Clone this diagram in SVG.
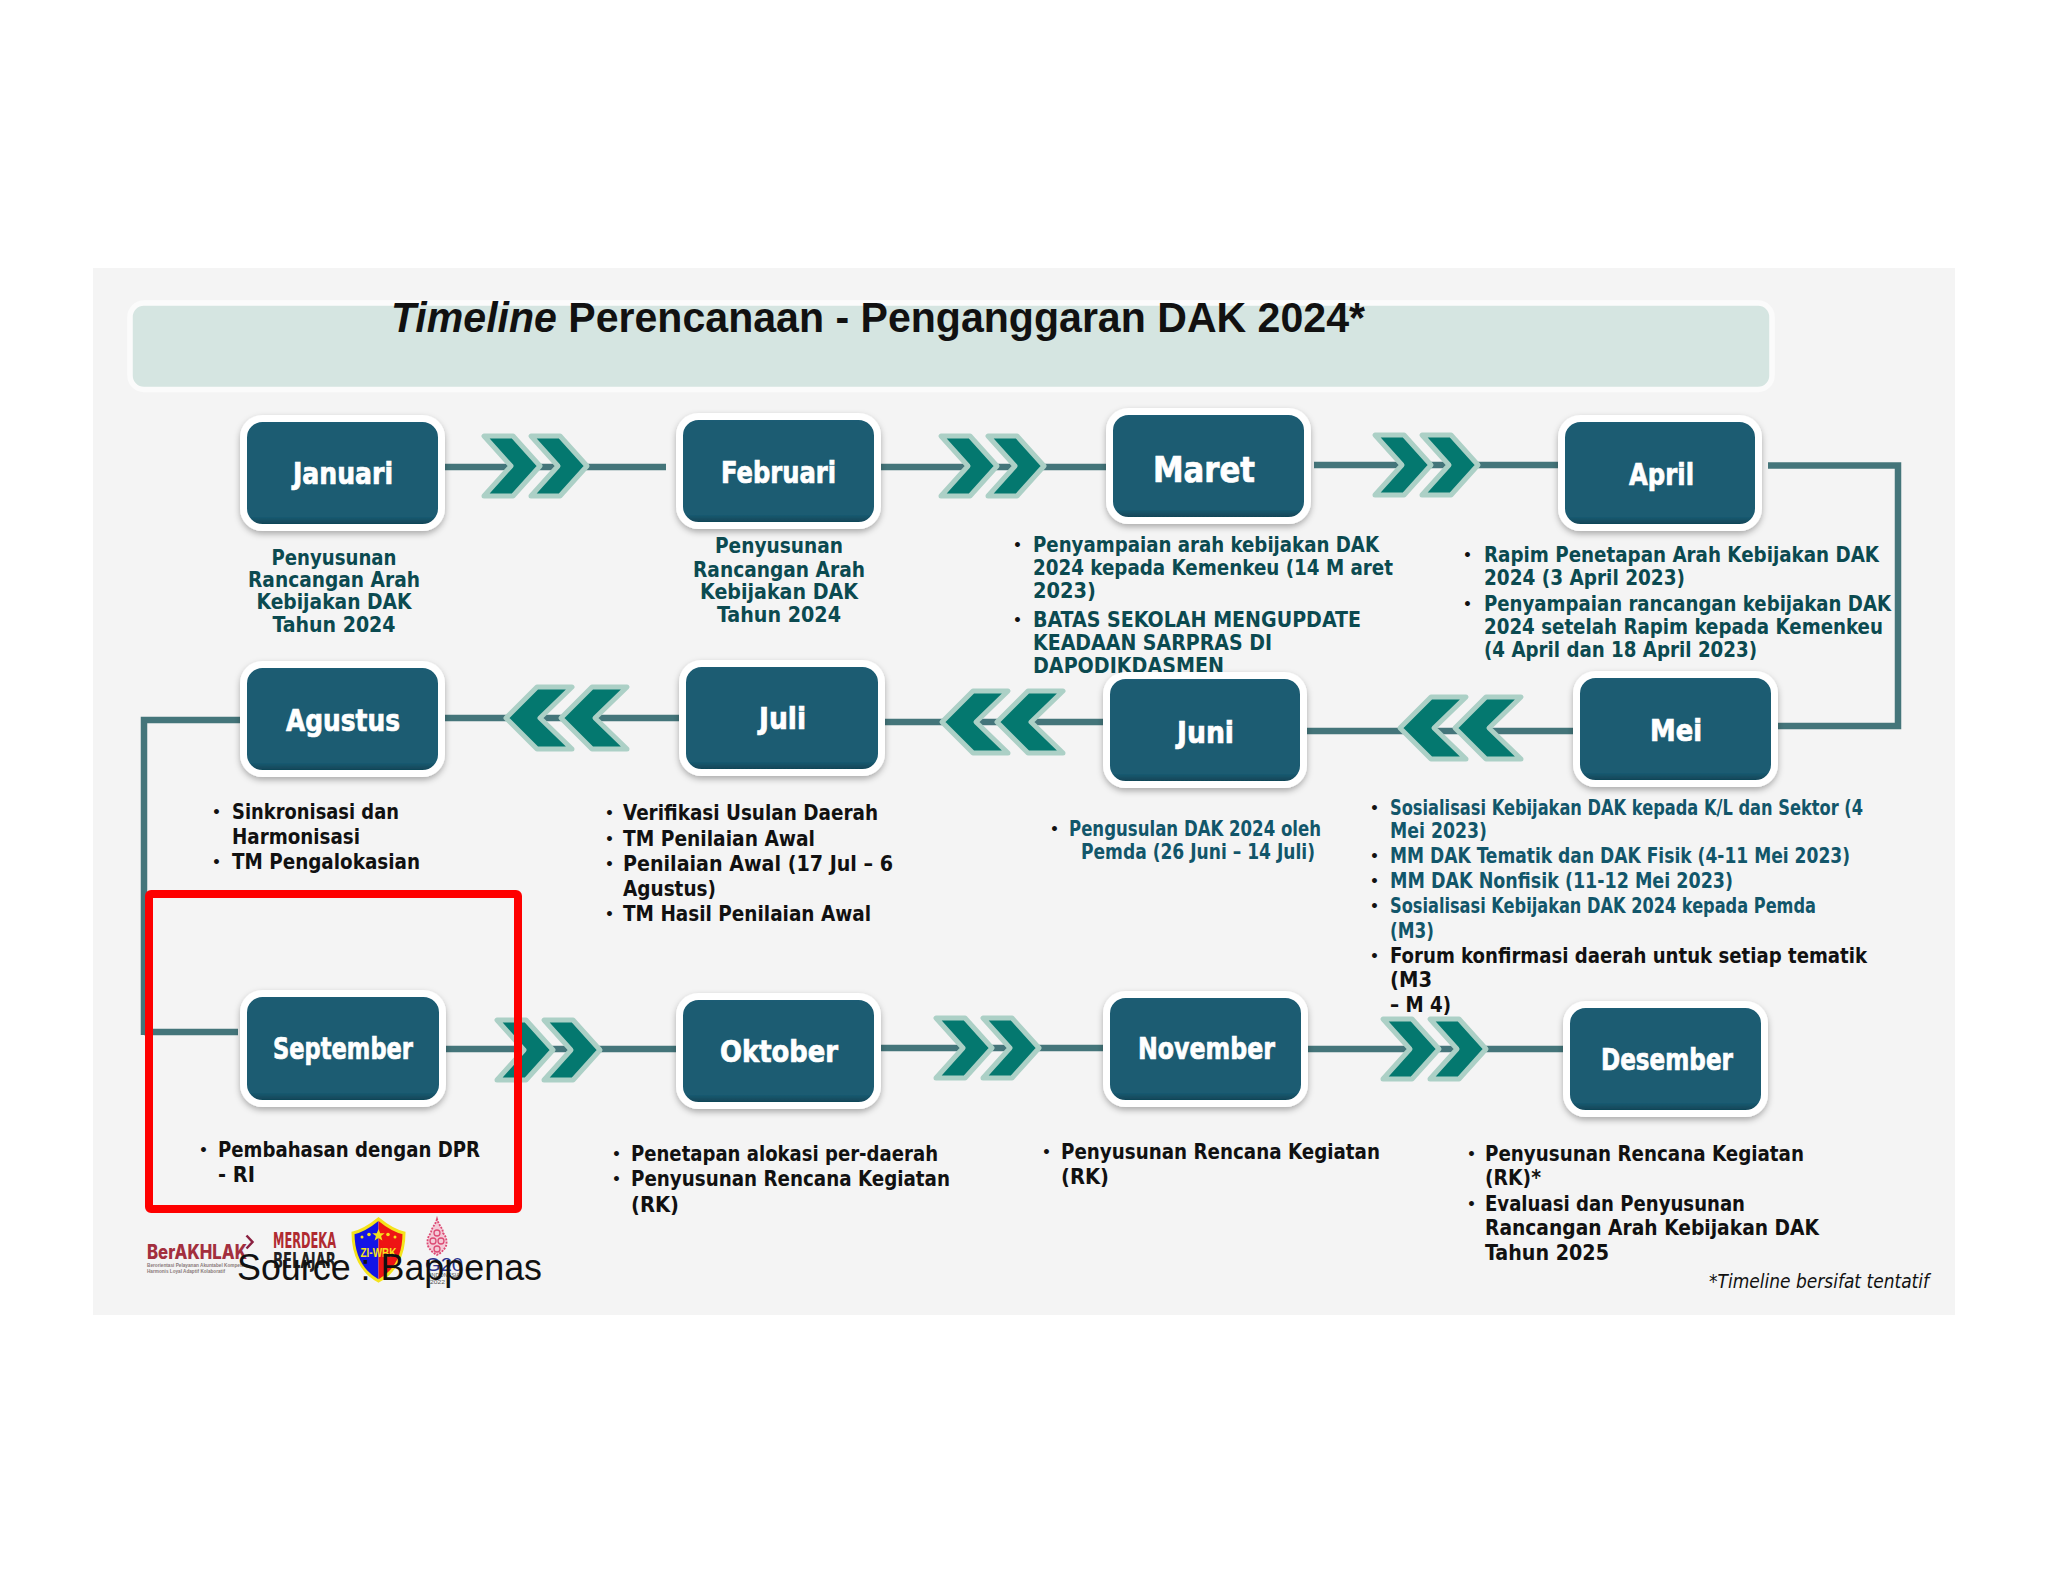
<svg xmlns="http://www.w3.org/2000/svg" width="2048" height="1582" viewBox="0 0 2048 1582">
<style>
text{font-family:"DejaVu Sans","Liberation Sans",sans-serif}
.b{font-size:20.5px;font-weight:700;font-stretch:condensed;white-space:pre}
.d{fill:#0b4a50}.k{fill:#111}.u{fill:#12566a}
.m{text-anchor:middle}
.p{font-size:14px;fill:#111;font-weight:700}
.n{fill:#fff;stroke:#fff;stroke-width:.7;font-weight:700;font-stretch:condensed;font-size:31px}
.box{fill:url(#nb);stroke:#fff;stroke-width:7;filter:url(#sh)}
.ln{fill:none;stroke:#44757a;stroke-width:6.5}
.cv{fill:#04786f;stroke:#acd0c6;stroke-width:5;stroke-linejoin:round}
.lg{font-family:"Liberation Sans",sans-serif}
</style>
<defs>
<linearGradient id="nb" x1="0" y1="0" x2="0" y2="1"><stop offset="0" stop-color="#1c6078"/><stop offset=".06" stop-color="#1a5b72"/><stop offset=".9" stop-color="#1a5b72"/><stop offset="1" stop-color="#0c3b4a"/></linearGradient>
<filter id="sh" x="-10%" y="-10%" width="120%" height="125%"><feDropShadow dx="0" dy="3" stdDeviation="3" flood-color="#000" flood-opacity=".3"/></filter>
<g id="rr"><polygon class="cv" points="3,3 32,3 59,33 32,63 3,63 30,33"/><polygon class="cv" points="50,3 79,3 106,33 79,63 50,63 77,33"/></g>
<g id="ll"><polygon class="cv" points="69,3 34,3 3,34 34,65 69,65 37,34"/><polygon class="cv" points="124,3 89,3 58,34 89,65 124,65 92,34"/></g>
</defs>
<rect width="2048" height="1582" fill="#fff"/>
<rect x="93" y="268" width="1862" height="1047" fill="#f4f4f4"/>
<g id="title-bar"><rect x="130" y="303" width="1642" height="86.500" rx="14" fill="#d5e5e1" stroke="#fbfbfb" stroke-width="5.500"/>
<text x="391" y="332" font-size="42" font-weight="700" class="k" style="font-family:'Liberation Sans',sans-serif" textLength="974" lengthAdjust="spacingAndGlyphs"><tspan font-style="italic">Timeline</tspan> Perencanaan - Penganggaran DAK 2024*</text></g>
<g id="connectors">
<path class="ln" d="M445 467H666M881 467H1106M1314 465H1558M1768 465.500H1898V726H1770"/>
<path class="ln" d="M1307 731H1578M884 722H1103M444 718H687M240 720H144V1035M144 1032H238M430 1049H677M880 1048H1104M1307 1049H1563"/>
<use href="#rr" x="481" y="433"/><use href="#rr" x="938" y="433"/><use href="#rr" x="1372" y="432"/>
<use href="#ll" x="1397" y="694"/><use href="#ll" x="939" y="688"/><use href="#ll" x="503" y="684"/>
<use href="#rr" x="494" y="1017"/><use href="#rr" x="933" y="1015"/><use href="#rr" x="1380" y="1016"/>
</g>
<g id="januari"><rect class="box" x="243.500" y="418.500" width="198" height="109" rx="19"/><text class="n" x="293" y="484" textLength="100" lengthAdjust="spacingAndGlyphs">Januari</text>
<g class="b d m"><text x="334" y="565" textLength="125" lengthAdjust="spacingAndGlyphs">Penyusunan</text><text x="334" y="587" textLength="172" lengthAdjust="spacingAndGlyphs">Rancangan  Arah</text><text x="334" y="609" textLength="155" lengthAdjust="spacingAndGlyphs">Kebijakan DAK</text><text x="334" y="632" textLength="123" lengthAdjust="spacingAndGlyphs">Tahun 2024</text></g></g>
<g id="februari"><rect class="box" x="679.500" y="416.500" width="198" height="109" rx="19"/><text class="n" x="721" y="483" textLength="115" lengthAdjust="spacingAndGlyphs">Februari</text>
<g class="b d m"><text x="779" y="553" textLength="128" lengthAdjust="spacingAndGlyphs">Penyusunan</text><text x="779" y="577" textLength="172" lengthAdjust="spacingAndGlyphs">Rancangan  Arah</text><text x="779" y="599" textLength="158" lengthAdjust="spacingAndGlyphs">Kebijakan DAK</text><text x="779" y="622" textLength="124" lengthAdjust="spacingAndGlyphs">Tahun 2024</text></g></g>
<g id="maret"><rect class="box" x="1109.500" y="411.500" width="198" height="109" rx="19"/><text class="n" style="font-size:36px" x="1153" y="482" textLength="102" lengthAdjust="spacingAndGlyphs">Maret</text>
<text class="p" x="1013" y="550">•</text><text class="p" x="1013" y="625">•</text>
<g class="b d"><text x="1033" y="552" textLength="346" lengthAdjust="spacingAndGlyphs">Penyampaian arah kebijakan DAK</text><text x="1033" y="575" textLength="360" lengthAdjust="spacingAndGlyphs">2024 kepada Kemenkeu (14 M aret</text><text x="1033" y="598" textLength="63" lengthAdjust="spacingAndGlyphs">2023)</text><text x="1033" y="627" textLength="328" lengthAdjust="spacingAndGlyphs">BATAS SEKOLAH MENGUPDATE</text><text x="1033" y="650" textLength="239" lengthAdjust="spacingAndGlyphs">KEADAAN SARPRAS DI</text><text x="1033" y="673" textLength="191" lengthAdjust="spacingAndGlyphs">DAPODIKDASMEN</text></g></g>
<g id="april"><rect class="box" x="1561.500" y="418.500" width="197" height="109" rx="19"/><text class="n" x="1629" y="485" textLength="65" lengthAdjust="spacingAndGlyphs">April</text>
<text class="p" x="1463" y="560">•</text><text class="p" x="1463" y="609">•</text>
<g class="b d"><text x="1484" y="562" textLength="395" lengthAdjust="spacingAndGlyphs">Rapim Penetapan Arah Kebijakan DAK</text><text x="1484" y="585" textLength="201" lengthAdjust="spacingAndGlyphs">2024 (3 April 2023)</text><text x="1484" y="611" textLength="407" lengthAdjust="spacingAndGlyphs">Penyampaian rancangan kebijakan DAK</text><text x="1484" y="634" textLength="399" lengthAdjust="spacingAndGlyphs">2024 setelah Rapim kepada Kemenkeu</text><text x="1484" y="657" textLength="273" lengthAdjust="spacingAndGlyphs">(4 April dan 18 April 2023)</text></g></g>
<g id="mei"><rect class="box" x="1576.500" y="674.500" width="198" height="109" rx="19"/><text class="n" x="1650" y="741" textLength="52" lengthAdjust="spacingAndGlyphs">Mei</text>
<text class="p" x="1370" y="813">•</text><text class="p" x="1370" y="861">•</text><text class="p" x="1370" y="886">•</text><text class="p" x="1370" y="911">•</text><text class="p" x="1370" y="961">•</text>
<g class="b u"><text x="1390" y="815" textLength="473" lengthAdjust="spacingAndGlyphs">Sosialisasi Kebijakan DAK kepada K/L dan Sektor (4</text><text x="1390" y="838" textLength="97" lengthAdjust="spacingAndGlyphs">Mei 2023)</text><text x="1390" y="863" textLength="460" lengthAdjust="spacingAndGlyphs">MM DAK Tematik dan DAK Fisik (4-11 Mei 2023)</text><text x="1390" y="888" textLength="343" lengthAdjust="spacingAndGlyphs">MM  DAK Nonfisik (11-12 Mei 2023)</text><text x="1390" y="913" textLength="426" lengthAdjust="spacingAndGlyphs">Sosialisasi Kebijakan DAK 2024 kepada Pemda</text><text x="1390" y="938" textLength="44" lengthAdjust="spacingAndGlyphs">(M3)</text></g>
<g class="b k"><text x="1390" y="963" textLength="477" lengthAdjust="spacingAndGlyphs">Forum konfirmasi daerah untuk setiap tematik</text><text x="1390" y="987" textLength="42" lengthAdjust="spacingAndGlyphs">(M3</text><text x="1390" y="1012" textLength="61" lengthAdjust="spacingAndGlyphs">– M 4)</text></g></g>
<g id="juni"><rect class="box" x="1106.500" y="675.500" width="197" height="109" rx="19"/><text class="n" x="1177" y="743" textLength="57" lengthAdjust="spacingAndGlyphs">Juni</text>
<text class="p" x="1050" y="834">•</text>
<g class="b u"><text x="1069" y="836" textLength="252" lengthAdjust="spacingAndGlyphs">Pengusulan DAK 2024 oleh</text><text x="1081" y="859" textLength="234" lengthAdjust="spacingAndGlyphs">Pemda (26 Juni – 14 Juli)</text></g></g>
<g id="juli"><rect class="box" x="682.500" y="663.500" width="199" height="109" rx="19"/><text class="n" x="759" y="729" textLength="47" lengthAdjust="spacingAndGlyphs">Juli</text>
<text class="p" x="605" y="818">•</text><text class="p" x="605" y="844">•</text><text class="p" x="605" y="869">•</text><text class="p" x="605" y="919">•</text>
<g class="b k"><text x="623" y="820" textLength="255" lengthAdjust="spacingAndGlyphs">Verifikasi Usulan Daerah</text><text x="623" y="846" textLength="192" lengthAdjust="spacingAndGlyphs">TM Penilaian Awal</text><text x="623" y="871" textLength="270" lengthAdjust="spacingAndGlyphs">Penilaian Awal (17 Jul – 6</text><text x="623" y="896" textLength="93" lengthAdjust="spacingAndGlyphs">Agustus)</text><text x="623" y="921" textLength="248" lengthAdjust="spacingAndGlyphs">TM Hasil Penilaian Awal</text></g></g>
<g id="agustus"><rect class="box" x="243.500" y="664.500" width="198" height="109" rx="19"/><text class="n" x="286" y="731" textLength="114" lengthAdjust="spacingAndGlyphs">Agustus</text>
<text class="p" x="212" y="817">•</text><text class="p" x="212" y="867">•</text>
<g class="b k"><text x="232" y="819" textLength="167" lengthAdjust="spacingAndGlyphs">Sinkronisasi dan</text><text x="232" y="844" textLength="128" lengthAdjust="spacingAndGlyphs">Harmonisasi</text><text x="232" y="869" textLength="188" lengthAdjust="spacingAndGlyphs">TM Pengalokasian</text></g></g>
<g id="september"><rect class="box" x="243.500" y="993.500" width="199" height="110" rx="19"/><text class="n" x="273" y="1059" textLength="140" lengthAdjust="spacingAndGlyphs">September</text>
<text class="p" x="199" y="1155">•</text>
<g class="b k"><text x="218" y="1157" textLength="262" lengthAdjust="spacingAndGlyphs">Pembahasan dengan DPR</text><text x="218" y="1182" textLength="37" lengthAdjust="spacingAndGlyphs">- RI</text></g></g>
<g id="oktober"><rect class="box" x="679.500" y="996.500" width="198" height="109" rx="19"/><text class="n" x="720" y="1062" textLength="118" lengthAdjust="spacingAndGlyphs">Oktober</text>
<text class="p" x="612" y="1159">•</text><text class="p" x="612" y="1184">•</text>
<g class="b k"><text x="631" y="1161" textLength="307" lengthAdjust="spacingAndGlyphs">Penetapan alokasi per-daerah</text><text x="631" y="1186" textLength="319" lengthAdjust="spacingAndGlyphs">Penyusunan Rencana Kegiatan</text><text x="631" y="1212" textLength="48" lengthAdjust="spacingAndGlyphs">(RK)</text></g></g>
<g id="november"><rect class="box" x="1106.500" y="994.500" width="198" height="109" rx="19"/><text class="n" x="1138" y="1059" textLength="137" lengthAdjust="spacingAndGlyphs">November</text>
<text class="p" x="1042" y="1157">•</text>
<g class="b k"><text x="1061" y="1159" textLength="319" lengthAdjust="spacingAndGlyphs">Penyusunan Rencana Kegiatan</text><text x="1061" y="1184" textLength="48" lengthAdjust="spacingAndGlyphs">(RK)</text></g></g>
<g id="desember"><rect class="box" x="1566.500" y="1004.500" width="198" height="109" rx="19"/><text class="n" x="1601" y="1070" textLength="132" lengthAdjust="spacingAndGlyphs">Desember</text>
<text class="p" x="1467" y="1159">•</text><text class="p" x="1467" y="1209">•</text>
<g class="b k"><text x="1485" y="1161" textLength="319" lengthAdjust="spacingAndGlyphs">Penyusunan Rencana Kegiatan</text><text x="1485" y="1185" textLength="56" lengthAdjust="spacingAndGlyphs">(RK)*</text><text x="1485" y="1211" textLength="260" lengthAdjust="spacingAndGlyphs">Evaluasi dan Penyusunan</text><text x="1485" y="1235" textLength="334" lengthAdjust="spacingAndGlyphs">Rancangan  Arah Kebijakan DAK</text><text x="1485" y="1260" textLength="124" lengthAdjust="spacingAndGlyphs">Tahun 2025</text></g></g>
<text x="1709" y="1288" font-size="20" font-style="italic" fill="#111" font-stretch="condensed" textLength="220" lengthAdjust="spacingAndGlyphs">*Timeline bersifat tentatif</text>
<rect id="highlight" x="149" y="894" width="369" height="315" rx="2" fill="none" stroke="#fe0000" stroke-width="8"/>
<g id="logos">
<text x="147" y="1259" font-size="20" font-weight="800" fill="#a32f3e" style="font-family:Inter,sans-serif" textLength="100" lengthAdjust="spacingAndGlyphs">BerAKHLAK</text>
<path d="M246.500 1235.500l6 6.500-6 6.500" fill="none" stroke="#8a2040" stroke-width="2.500"/>
<text class="lg" x="147" y="1267" font-size="6" font-weight="700" fill="#8a7a7a" textLength="100" lengthAdjust="spacingAndGlyphs">Berorientasi Pelayanan Akuntabel Kompeten</text>
<text class="lg" x="147" y="1273" font-size="6" font-weight="700" fill="#8a7a7a" textLength="78" lengthAdjust="spacingAndGlyphs">Harmonis Loyal Adaptif Kolaboratif</text>
<text x="273" y="1248" font-size="20.500" font-weight="700" font-stretch="condensed" fill="#b02a30" textLength="63" lengthAdjust="spacingAndGlyphs">MERDEKA</text>
<text x="273" y="1268" font-size="20.500" font-weight="700" font-stretch="condensed" fill="#222" textLength="63" lengthAdjust="spacingAndGlyphs">BELAJAR</text>
<path d="M378.500 1219C370 1226 362 1231 353 1233C353 1255 362 1272 378.500 1281z" fill="#1414e6"/>
<path d="M378.500 1219C387 1226 395 1231 404 1233C404 1255 395 1272 378.500 1281z" fill="#ee1414"/>
<path d="M378.500 1219C370 1226 362 1231 353 1233C353 1255 362 1272 378.500 1281C395 1272 404 1255 404 1233C395 1231 387 1226 378.500 1219z" fill="none" stroke="#f5e31c" stroke-width="3"/>
<g fill="#f5e31c"><path d="M378.500 1229l1.700 4.300h4.500l-3.600 2.800 1.300 4.400-3.900-2.600-3.900 2.600 1.300-4.400-3.600-2.800h4.500z"/><circle cx="369" cy="1234.500" r="1.800"/><circle cx="388" cy="1234.500" r="1.800"/><circle cx="362" cy="1237" r="1.500"/><circle cx="395" cy="1237" r="1.500"/></g>
<text class="lg" x="378.500" y="1257" font-size="12" font-weight="700" fill="#f5e31c" text-anchor="middle" textLength="36" lengthAdjust="spacingAndGlyphs">ZI-WBK</text>
<path d="M437 1219C435 1226 431 1228 431 1233C427 1237 427 1243 428 1246C430 1250 433 1253 437 1255C441 1253 444 1250 446 1246C447 1243 447 1237 443 1233C443 1228 439 1226 437 1219z" fill="#f4c9d6" stroke="#dc4a74" stroke-width="1.800" stroke-dasharray="2 1.200"/>
<g fill="none" stroke="#dc4a74" stroke-width="1.300"><circle cx="437" cy="1233" r="3"/><circle cx="433" cy="1241" r="3"/><circle cx="441" cy="1241" r="3"/><circle cx="437" cy="1249" r="3"/></g>
<text class="lg" x="425" y="1271" font-size="19" fill="#2a3590" textLength="38" lengthAdjust="spacingAndGlyphs">G20</text>
<text class="lg" x="430" y="1277" font-size="6" fill="#555" textLength="30" lengthAdjust="spacingAndGlyphs">INDONESIA</text>
<text class="lg" x="430" y="1284" font-size="6" fill="#555" textLength="15" lengthAdjust="spacingAndGlyphs">2022</text>
</g>
<text id="source" x="237" y="1280" font-size="37" fill="#111" style="font-family:'Liberation Sans',sans-serif" textLength="305" lengthAdjust="spacingAndGlyphs">Source : Bappenas</text>
</svg>
